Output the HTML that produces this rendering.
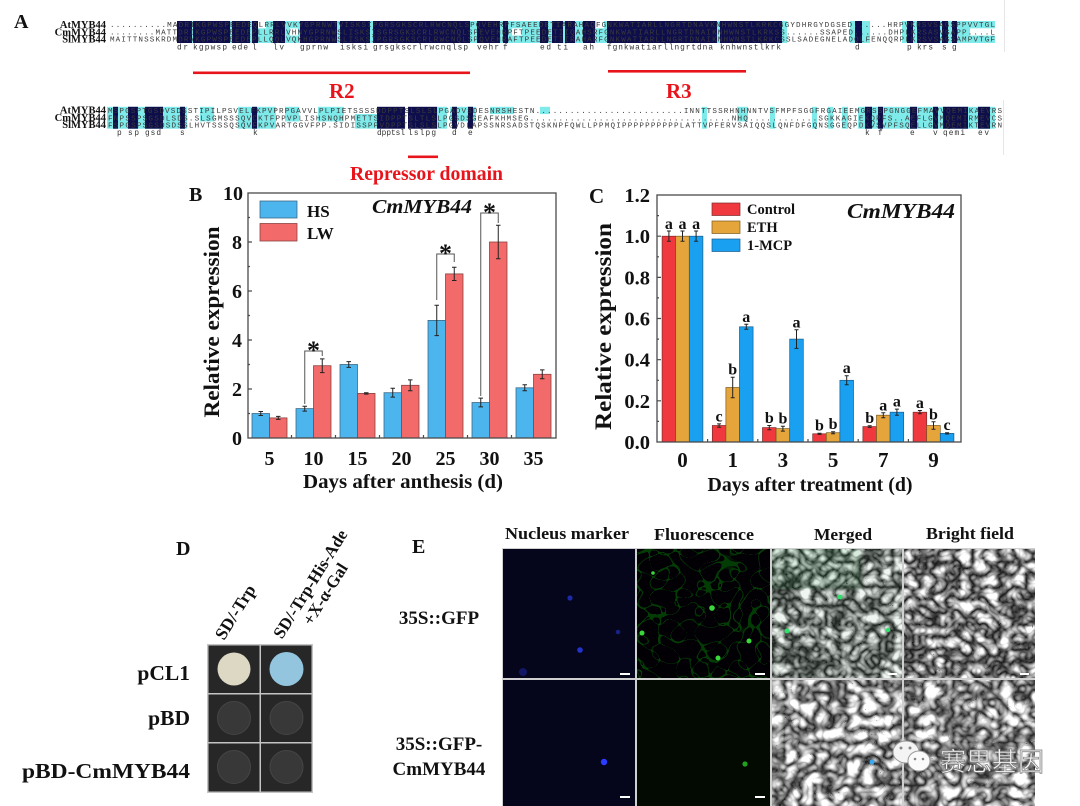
<!DOCTYPE html>
<html><head><meta charset="utf-8">
<style>
html,body{margin:0;padding:0;background:#fff;}
svg{display:block;}
.nm{font-family:"Liberation Serif",serif;font-weight:bold;font-size:10.5px;fill:#111;}
.seq{font-family:"Liberation Mono",monospace;font-size:7.6px;fill:#3a3a3a;}
.cs{font-family:"Liberation Mono",monospace;font-size:7.8px;fill:#333;}
.b{font-family:"Liberation Serif",serif;font-weight:bold;fill:#111;}
.red{font-family:"Liberation Serif",serif;font-weight:bold;fill:#e8141c;}
</style></head>
<body>
<svg width="1080" height="806" viewBox="0 0 1080 806" xmlns="http://www.w3.org/2000/svg">
<defs>
<filter id="bf1" x="0" y="0" width="1" height="1" color-interpolation-filters="sRGB">
 <feTurbulence type="turbulence" baseFrequency="0.075 0.08" numOctaves="2" seed="7"/>
 <feColorMatrix type="matrix" values="1.7 0 0 0 0.08  1.7 0 0 0 0.08  1.7 0 0 0 0.08  0 0 0 0 1"/>
</filter>
<filter id="bf2" x="0" y="0" width="1" height="1" color-interpolation-filters="sRGB">
 <feTurbulence type="turbulence" baseFrequency="0.065 0.07" numOctaves="2" seed="19"/>
 <feColorMatrix type="matrix" values="1.9 0 0 0 0.12  1.9 0 0 0 0.12  1.9 0 0 0 0.12  0 0 0 0 1"/>
</filter>
<filter id="gf" x="0" y="0" width="1" height="1" color-interpolation-filters="sRGB">
 <feTurbulence type="turbulence" baseFrequency="0.05 0.056" numOctaves="1" seed="7"/>
 <feColorMatrix type="matrix" values="0 0 0 0 0.01  -8 0 0 0 0.24  0 0 0 0 0.02  0 0 0 0 1"/>
</filter>
</defs>

<!-- ============ PANEL A ============ -->
<text x="14" y="28" class="b" font-size="20">A</text>
<line x1="1004.5" y1="0" x2="1004.5" y2="52" stroke="#e6e6e6"/>
<line x1="1003.5" y1="100" x2="1003.5" y2="155" stroke="#e6e6e6"/>

<g fill="#7eeaea">
<rect x="177" y="21" width="430" height="22"/>
<rect x="607" y="21" width="180" height="22"/>
<rect x="850" y="21" width="20" height="22"/>
<rect x="902" y="21" width="68" height="22"/>
<rect x="970" y="21" width="25" height="7.3"/>
<rect x="970" y="35.6" width="25" height="7.4"/>
</g>
<g fill="#fff">
<rect x="258" y="21" width="8" height="7.3"/>
<rect x="290" y="28.3" width="8" height="7.3"/>
<rect x="512" y="28.3" width="10" height="7.3"/>
<rect x="596" y="21" width="8" height="7.3"/>
</g>
<g fill="#0e0e4c">
<rect x="177" y="21" width="15" height="22"/>
<rect x="193" y="21" width="37" height="22"/>
<rect x="232" y="21" width="18" height="22"/>
<rect x="252" y="21" width="6" height="22"/>
<rect x="273" y="21" width="12" height="22"/>
<rect x="300" y="21" width="37" height="22"/>
<rect x="340" y="21" width="30" height="22"/>
<rect x="373" y="21" width="97" height="22"/>
<rect x="477" y="21" width="23" height="22"/>
<rect x="503" y="21" width="5" height="22"/>
<rect x="540" y="21" width="8" height="22"/>
<rect x="552" y="21" width="11" height="22"/>
<rect x="565" y="21" width="10" height="22"/>
<rect x="583" y="21" width="12" height="22"/>
<rect x="607" y="21" width="110" height="22"/>
<rect x="720" y="21" width="62" height="22"/>
<rect x="855" y="21" width="7" height="22"/>
<rect x="907" y="21" width="6" height="22"/>
<rect x="917" y="21" width="23" height="22"/>
<rect x="942" y="21" width="6" height="22"/>
<rect x="952" y="21" width="5" height="22"/>
</g>
<text x="106" y="28" class="nm" text-anchor="end">AtMYB44</text>
<text x="106" y="35.3" class="nm" text-anchor="end">CmMYB44</text>
<text x="106" y="42.6" class="nm" text-anchor="end">SlMYB44</text>
<text x="110" y="27" class="seq" textLength="885" lengthAdjust="spacing">..........MADRIKGPWSPEEDEQLRRLVVKYGPRNWTVISKSIPGRSGKSCRLRWCNQLSPQVEHRPFSAEEDETIARAHAQFGNKWATIARLLNGRTDNAVKNHWNSTLKRKCGGYDHRGYDGSED......HRPVKRSVSAGSPPVVTGL</text>
<text x="110" y="34.3" class="seq" textLength="885" lengthAdjust="spacing">........MATTDRIKGPWSPEEDEPLLRRLVHNYGPRNWSLISKSISGRSGKSCRLRWCNQLSPEVEHRPFTPEEDETIIQAHSRFGNKWATIARLLNGRTDNAIKNHWNSTLKRKSS......SSAPED......DHPLKRSASVGAPP....L</text>
<text x="110" y="41.6" class="seq" textLength="885" lengthAdjust="spacing">MAITTNSSKRDMDRVKGPWSPEEDEPLLQQLVQKHGPRNWSLISKSIPGRSGKSCRLRWCNQLSPQVEHRAFTPEEDETIIRAHARFGNKWATIARLLNGRTDNAIKNHWNSTLKRKCSSLSADEGNELADQLFENQQRPLKRSVSAGSAMPVTGF</text>
<g class="cs">
<text x="177" y="49.5" textLength="11" lengthAdjust="spacing">dr</text>
<text x="193" y="49.5" textLength="34" lengthAdjust="spacing">kgpwsp</text>
<text x="232" y="49.5" textLength="16" lengthAdjust="spacing">ede</text>
<text x="252" y="49.5">l</text>
<text x="273" y="49.5" textLength="11" lengthAdjust="spacing">lv</text>
<text x="300" y="49.5" textLength="28" lengthAdjust="spacing">gprnw</text>
<text x="340" y="49.5" textLength="28" lengthAdjust="spacing">isksi</text>
<text x="373" y="49.5" textLength="95" lengthAdjust="spacing">grsgkscrlrwcnqlsp</text>
<text x="477" y="49.5" textLength="22" lengthAdjust="spacing">vehr</text>
<text x="503" y="49.5">f</text>
<text x="540" y="49.5" textLength="11" lengthAdjust="spacing">ed</text>
<text x="557" y="49.5" textLength="11" lengthAdjust="spacing">ti</text>
<text x="583" y="49.5" textLength="11" lengthAdjust="spacing">ah</text>
<text x="607" y="49.5" textLength="106" lengthAdjust="spacing">fgnkwatiarllngrtdna</text>
<text x="720" y="49.5" textLength="61" lengthAdjust="spacing">knhwnstlkrk</text>
<text x="855" y="49.5">d</text>
<text x="907" y="49.5">p</text>
<text x="917" y="49.5" textLength="16" lengthAdjust="spacing">krs</text>
<text x="942" y="49.5">s</text>
<text x="952" y="49.5">g</text>
</g>
<rect x="193" y="71.5" width="277" height="2.6" fill="#e8141c"/>
<rect x="608" y="70" width="138" height="2.6" fill="#e8141c"/>
<text x="329" y="98" class="red" font-size="21">R2</text>
<text x="666" y="98" class="red" font-size="21">R3</text>

<g fill="#7eeaea">
<rect x="107" y="106.8" width="80" height="21.9"/>
<rect x="200" y="106.8" width="14" height="14.6"/>
<rect x="238" y="106.8" width="38" height="21.9"/>
<rect x="285" y="106.8" width="14" height="14.6"/>
<rect x="318" y="106.8" width="26" height="14.6"/>
<rect x="355" y="114" width="22" height="14.6"/>
<rect x="437" y="106.8" width="10" height="21.9"/>
<rect x="450" y="106.8" width="26" height="14.6"/>
<rect x="490" y="106.8" width="24" height="7.3"/>
<rect x="540" y="106.8" width="10" height="7.3"/>
<rect x="702" y="106.8" width="5" height="21.9"/>
<rect x="737" y="106.8" width="11" height="14.6"/>
<rect x="770" y="106.8" width="5" height="21.9"/>
<rect x="812" y="106.8" width="5" height="21.9"/>
<rect x="828" y="106.8" width="5" height="21.9"/>
<rect x="842" y="106.8" width="6" height="21.9"/>
<rect x="858" y="106.8" width="137" height="21.9"/>
</g>
<g fill="#0e0e4c">
<rect x="113" y="106.8" width="5" height="21.9"/>
<rect x="128" y="106.8" width="10" height="21.9"/>
<rect x="145" y="106.8" width="18" height="21.9"/>
<rect x="180" y="106.8" width="5" height="21.9"/>
<rect x="252" y="106.8" width="5" height="21.9"/>
<rect x="377" y="106.8" width="28" height="21.9"/>
<rect x="408" y="106.8" width="29" height="21.9"/>
<rect x="452" y="106.8" width="5" height="21.9"/>
<rect x="468" y="106.8" width="5" height="21.9"/>
<rect x="865" y="106.8" width="7" height="21.9"/>
<rect x="878" y="106.8" width="5" height="21.9"/>
<rect x="910" y="106.8" width="7" height="21.9"/>
<rect x="933" y="106.8" width="5" height="21.9"/>
<rect x="943" y="106.8" width="25" height="21.9"/>
<rect x="978" y="106.8" width="12" height="21.9"/>
</g>
<text x="106" y="113.5" class="nm" text-anchor="end">AtMYB44</text>
<text x="106" y="120.8" class="nm" text-anchor="end">CmMYB44</text>
<text x="106" y="128.1" class="nm" text-anchor="end">SlMYB44</text>
<text x="108" y="113" class="seq" textLength="894" lengthAdjust="spacing">MSPGSPTGSDVSDSSTIPILPSVELFKPVPRPGAVVLPLPIETSSSSDDPPTSLSLSLPGADVSDESNRSHESTN..........................INNTTSSRHNHNNTVSFMPFSGGFRGAIEEMGRSSPGNGGEFMAVVQEMIKAEVRS</text>
<text x="108" y="120.3" class="seq" textLength="894" lengthAdjust="spacing">FNPSSPSGSDLSDS.SLSGMSSSQVCKTFPPVPLISHSNQHPMETTSIDPPTSLTLSLPGSDSGEAFKHMSEG...................................NHQ............SGKKAGIEKQPFS..AEFLGVMQEMIRMEVCS</text>
<text x="108" y="127.6" class="seq" textLength="894" lengthAdjust="spacing">FSPGSPSGSDSDSSLHVTSSSQSQVFKPVARTGGVFPP.SIDISSPPVDPPTSLSLSLPGVDLAPSSNRSADSTQSKNPFQWLLPPMQIPPPPPPPPPPLATTVPFERVSAIQQSLQNFDFGQNSGGEQPDKVSVPFSQELLGVMQEMIKTEVRN</text>
<g class="cs">
<text x="117" y="135">p</text>
<text x="128" y="135" textLength="11" lengthAdjust="spacing">sp</text>
<text x="145" y="135" textLength="16" lengthAdjust="spacing">gsd</text>
<text x="180" y="135">s</text>
<text x="253" y="135">k</text>
<text x="377" y="135" textLength="28" lengthAdjust="spacing">dpptsl</text>
<text x="408" y="135" textLength="28" lengthAdjust="spacing">lslpg</text>
<text x="452" y="135">d</text>
<text x="468" y="135">e</text>
<text x="865" y="135">k</text>
<text x="878" y="135">f</text>
<text x="910" y="135">e</text>
<text x="933" y="135">v</text>
<text x="943" y="135" textLength="22" lengthAdjust="spacing">qemi</text>
<text x="978" y="135" textLength="11" lengthAdjust="spacing">ev</text>
</g>
<rect x="408" y="155.5" width="30" height="2.6" fill="#e8141c"/>
<text x="350" y="180" class="red" font-size="20" textLength="153" lengthAdjust="spacingAndGlyphs">Repressor domain</text>

<!-- ============ PANEL B ============ -->
<text x="189" y="201" class="b" font-size="20">B</text>
<g fill="#4db5ee" stroke="#3d6a88" stroke-width="0.8">
<rect x="252" y="413.5" width="17.5" height="24.5"/>
<rect x="296" y="408.6" width="17.5" height="29.4"/>
<rect x="340" y="364.5" width="17.5" height="73.5"/>
<rect x="384" y="392.7" width="17.5" height="45.3"/>
<rect x="428" y="320.4" width="17.5" height="117.6"/>
<rect x="472" y="402.5" width="17.5" height="35.5"/>
<rect x="516" y="387.8" width="17.5" height="50.2"/>
</g>
<g fill="#f26a6a" stroke="#8a4444" stroke-width="0.8">
<rect x="269.5" y="417.9" width="17.5" height="20.1"/>
<rect x="313.5" y="365.7" width="17.5" height="72.3"/>
<rect x="357.5" y="393.4" width="17.5" height="44.6"/>
<rect x="401.5" y="385.3" width="17.5" height="52.7"/>
<rect x="445.5" y="273.9" width="17.5" height="164.1"/>
<rect x="489.5" y="242" width="17.5" height="196"/>
<rect x="533.5" y="374.3" width="17.5" height="63.7"/>
</g>
<g stroke="#222" stroke-width="1" fill="none">
<path d="M260.75 411.5V415.5M258.5 411.5h4.5M258.5 415.5h4.5"/>
<path d="M278.25 416.4V419.4M276 416.4h4.5M276 419.4h4.5"/>
<path d="M304.75 406.2V411.1M302.5 406.2h4.5M302.5 411.1h4.5"/>
<path d="M322.25 358.9V372.6M320 358.9h4.5M320 372.6h4.5"/>
<path d="M348.75 361.6V367.4M346.5 361.6h4.5M346.5 367.4h4.5"/>
<path d="M366.25 392.7V394.1M364 392.7h4.5M364 394.1h4.5"/>
<path d="M392.75 388.3V397.1M390.5 388.3h4.5M390.5 397.1h4.5"/>
<path d="M410.25 379.9V390.7M408 379.9h4.5M408 390.7h4.5"/>
<path d="M436.75 305.2V335.6M434.5 305.2h4.5M434.5 335.6h4.5"/>
<path d="M454.25 267.2V280.5M452 267.2h4.5M452 280.5h4.5"/>
<path d="M480.75 398.1V406.9M478.5 398.1h4.5M478.5 406.9h4.5"/>
<path d="M498.25 225.3V258.7M496 225.3h4.5M496 258.7h4.5"/>
<path d="M524.75 384.8V390.7M522.5 384.8h4.5M522.5 390.7h4.5"/>
<path d="M542.25 369.9V378.7M540 369.9h4.5M540 378.7h4.5"/>
</g>
<g stroke="#555" stroke-width="1" fill="none">
<path d="M304.75 404V351H322.25V356"/>
<path d="M436.75 300V254H454.25V262"/>
<path d="M480.75 396V213H498.25V223"/>
</g>
<g class="b" font-size="26" text-anchor="middle">
<text x="313.5" y="359">*</text>
<text x="445.5" y="262">*</text>
<text x="489.5" y="221">*</text>
</g>
<rect x="248" y="193" width="308" height="245" fill="none" stroke="#4a4a4a" stroke-width="1.3"/>
<g stroke="#4a4a4a" stroke-width="1.2">
<path d="M248 389h4M248 340h4M248 291h4M248 242h4M248 413.5h2M248 364.5h2M248 315.5h2M248 266.5h2M248 217.5h2"/>
<path d="M291.5 438v-3M335.5 438v-3M379.5 438v-3M423.5 438v-3M467.5 438v-3M511.5 438v-3"/>
</g>
<g class="b" font-size="20" text-anchor="end">
<text x="242" y="445">0</text>
<text x="242" y="396">2</text>
<text x="242" y="347">4</text>
<text x="242" y="298">6</text>
<text x="242" y="249">8</text>
<text x="243" y="200">10</text>
</g>
<g class="b" font-size="20" text-anchor="middle">
<text x="269.5" y="465">5</text>
<text x="313.5" y="465">10</text>
<text x="357.5" y="465">15</text>
<text x="401.5" y="465">20</text>
<text x="445.5" y="465">25</text>
<text x="489.5" y="465">30</text>
<text x="533.5" y="465">35</text>
</g>
<text x="403" y="488" class="b" font-size="20" text-anchor="middle" textLength="200" lengthAdjust="spacingAndGlyphs">Days after anthesis (d)</text>
<text transform="translate(219,322) rotate(-90)" class="b" font-size="22" text-anchor="middle" textLength="191" lengthAdjust="spacingAndGlyphs">Relative expression</text>
<rect x="260" y="201" width="37" height="17" fill="#4db5ee" stroke="#3d6a88" stroke-width="0.8"/>
<rect x="260" y="223.5" width="37" height="17.5" fill="#f26a6a" stroke="#8a4444" stroke-width="0.8"/>
<text x="307" y="217" class="b" font-size="17">HS</text>
<text x="307" y="239" class="b" font-size="17">LW</text>
<text x="372" y="213" class="b" font-size="20" font-style="italic" textLength="100" lengthAdjust="spacingAndGlyphs">CmMYB44</text>

<!-- ============ PANEL C ============ -->
<text x="589" y="203" class="b" font-size="21">C</text>
<g fill="#f0393f" stroke="#7a2a2a" stroke-width="0.7">
<rect x="662.1" y="236.2" width="13.6" height="205.8"/>
<rect x="712.3" y="425.5" width="13.6" height="16.5"/>
<rect x="762.5" y="427.6" width="13.6" height="14.4"/>
<rect x="812.7" y="433.8" width="13.6" height="8.2"/>
<rect x="862.9" y="426.6" width="13.6" height="15.4"/>
<rect x="913.1" y="412.2" width="13.6" height="29.8"/>
</g>
<g fill="#e5a53a" stroke="#7a5a20" stroke-width="0.7">
<rect x="675.7" y="236.2" width="13.6" height="205.8"/>
<rect x="725.9" y="387.5" width="13.6" height="54.5"/>
<rect x="776.1" y="428.6" width="13.6" height="13.4"/>
<rect x="826.3" y="432.7" width="13.6" height="9.3"/>
<rect x="876.5" y="415.2" width="13.6" height="26.8"/>
<rect x="926.7" y="425.5" width="13.6" height="16.5"/>
</g>
<g fill="#1aa0f0" stroke="#1a5a8a" stroke-width="0.7">
<rect x="689.3" y="236.2" width="13.6" height="205.8"/>
<rect x="739.5" y="326.8" width="13.6" height="115.2"/>
<rect x="789.7" y="339.1" width="13.6" height="102.9"/>
<rect x="839.9" y="380.3" width="13.6" height="61.7"/>
<rect x="890.1" y="412.2" width="13.6" height="29.8"/>
<rect x="940.3" y="433.4" width="13.6" height="8.6"/>
</g>
<g stroke="#222" stroke-width="1" fill="none">
<path d="M668.9 231V241.3M666.9 231h4M666.9 241.3h4"/>
<path d="M682.5 231V241.3M680.5 231h4M680.5 241.3h4"/>
<path d="M696.1 231V241.3M694.1 231h4M694.1 241.3h4"/>
<path d="M719.1 423.9V427.2M717.1 423.9h4M717.1 427.2h4"/>
<path d="M732.7 377.2V397.8M730.7 377.2h4M730.7 397.8h4"/>
<path d="M746.3 324.3V329.2M744.3 324.3h4M744.3 329.2h4"/>
<path d="M769.3 425.5V429.7M767.3 425.5h4M767.3 429.7h4"/>
<path d="M782.9 426.2V431.1M780.9 426.2h4M780.9 431.1h4"/>
<path d="M796.5 329.8V348.4M794.5 329.8h4M794.5 348.4h4"/>
<path d="M819.5 433.2V434.4M817.5 433.2h4M817.5 434.4h4"/>
<path d="M833.1 431.7V433.8M831.1 431.7h4M831.1 433.8h4"/>
<path d="M846.7 375.7V384.8M844.7 375.7h4M844.7 384.8h4"/>
<path d="M869.7 425.7V427.4M867.7 425.7h4M867.7 427.4h4"/>
<path d="M883.3 412.8V417.7M881.3 412.8h4M881.3 417.7h4"/>
<path d="M896.9 409.1V415.2M894.9 409.1h4M894.9 415.2h4"/>
<path d="M919.9 410.5V413.8M917.9 410.5h4M917.9 413.8h4"/>
<path d="M933.5 421.8V429.2M931.5 421.8h4M931.5 429.2h4"/>
<path d="M947.1 432.7V434M945.1 432.7h4M945.1 434h4"/>
</g>
<g class="b" font-size="16" text-anchor="middle">
<text x="668.9" y="229">a</text><text x="682.5" y="229">a</text><text x="696.1" y="229">a</text>
<text x="719.1" y="421.5">c</text><text x="732.7" y="374.7">b</text><text x="746.3" y="321.8">a</text>
<text x="769.3" y="423">b</text><text x="782.9" y="423.7">b</text><text x="796.5" y="327.3">a</text>
<text x="819.5" y="430.7">b</text><text x="833.1" y="429.2">b</text><text x="846.7" y="373.2">a</text>
<text x="869.7" y="423.2">b</text><text x="883.3" y="410.3">a</text><text x="896.9" y="406.6">a</text>
<text x="919.9" y="408">a</text><text x="933.5" y="419.3">b</text><text x="947.1" y="430.2">c</text>
</g>
<rect x="657" y="195" width="304" height="247" fill="none" stroke="#4a4a4a" stroke-width="1.3"/>
<g stroke="#4a4a4a" stroke-width="1.2">
<path d="M657 400.8h4M657 359.7h4M657 318.5h4M657 277.4h4M657 236.2h4M657 421.4h2M657 380.3h2M657 339.1h2M657 297.9h2M657 256.8h2M657 215.6h2"/>
<path d="M707.6 442v-3M757.8 442v-3M808 442v-3M858.2 442v-3M908.4 442v-3"/>
</g>
<g class="b" font-size="20.5" text-anchor="end">
<text x="650" y="449">0.0</text>
<text x="650" y="407.8">0.2</text>
<text x="650" y="366.7">0.4</text>
<text x="650" y="325.5">0.6</text>
<text x="650" y="284.4">0.8</text>
<text x="650" y="243.2">1.0</text>
<text x="650" y="202">1.2</text>
</g>
<g class="b" font-size="21" text-anchor="middle">
<text x="682.5" y="467">0</text>
<text x="732.7" y="467">1</text>
<text x="782.9" y="467">3</text>
<text x="833.1" y="467">5</text>
<text x="883.3" y="467">7</text>
<text x="933.5" y="467">9</text>
</g>
<text x="810" y="491" class="b" font-size="20" text-anchor="middle" textLength="205" lengthAdjust="spacingAndGlyphs">Days after treatment (d)</text>
<text transform="translate(611,326.5) rotate(-90)" class="b" font-size="23" text-anchor="middle" textLength="207" lengthAdjust="spacingAndGlyphs">Relative expression</text>
<rect x="712" y="203" width="28" height="12.5" fill="#f0393f" stroke="#7a2a2a" stroke-width="0.7"/>
<rect x="712" y="221" width="28" height="12.5" fill="#e5a53a" stroke="#7a5a20" stroke-width="0.7"/>
<rect x="712" y="239" width="28" height="12.5" fill="#1aa0f0" stroke="#1a5a8a" stroke-width="0.7"/>
<text x="747" y="214" class="b" font-size="14.5">Control</text>
<text x="747" y="232" class="b" font-size="14.5">ETH</text>
<text x="747" y="250" class="b" font-size="14.5">1-MCP</text>
<text x="847" y="218" class="b" font-size="21" font-style="italic" textLength="108" lengthAdjust="spacingAndGlyphs">CmMYB44</text>

<!-- ============ PANEL D ============ -->
<text x="176" y="555" class="b" font-size="20">D</text>
<text transform="translate(224,641) rotate(-58)" class="b" font-size="17.5">SD/-Trp</text>
<text transform="translate(315,587) rotate(-58)" class="b" font-size="17" text-anchor="middle">SD/-Trp-His-Ade</text>
<text transform="translate(330,597) rotate(-58)" class="b" font-size="17" text-anchor="middle">+X-α-Gal</text>
<text x="190" y="680" class="b" font-size="21.5" text-anchor="end">pCL1</text>
<text x="190" y="725" class="b" font-size="21.5" text-anchor="end">pBD</text>
<text x="190" y="778" class="b" font-size="21.5" text-anchor="end" textLength="168" lengthAdjust="spacingAndGlyphs">pBD-CmMYB44</text>
<rect x="207" y="644" width="106" height="149" fill="#c4c4c4"/>
<g fill="#272727">
<rect x="208.5" y="645.5" width="51" height="47.5"/>
<rect x="261" y="645.5" width="50.5" height="47.5"/>
<rect x="208.5" y="694.5" width="51" height="47.5"/>
<rect x="261" y="694.5" width="50.5" height="47.5"/>
<rect x="208.5" y="743.5" width="51" height="48"/>
<rect x="261" y="743.5" width="50.5" height="48"/>
</g>
<circle cx="234" cy="669" r="16.5" fill="#dcd8c4"/>
<circle cx="286.5" cy="669" r="17" fill="#93c6de"/>
<g fill="#383838" stroke="#454545" stroke-width="1">
<circle cx="234" cy="718" r="16.5"/>
<circle cx="286.5" cy="718" r="16.5"/>
<circle cx="234" cy="767" r="16.5"/>
<circle cx="286.5" cy="767" r="16.5"/>
</g>

<!-- ============ PANEL E ============ -->
<text x="412" y="553" class="b" font-size="20">E</text>
<g class="b" font-size="17" text-anchor="middle">
<text x="567" y="539" textLength="124" lengthAdjust="spacingAndGlyphs">Nucleus marker</text>
<text x="704" y="540" textLength="100" lengthAdjust="spacingAndGlyphs">Fluorescence</text>
<text x="843" y="540" textLength="58" lengthAdjust="spacingAndGlyphs">Merged</text>
<text x="970" y="539" textLength="88" lengthAdjust="spacingAndGlyphs">Bright field</text>
</g>
<text x="439" y="624" class="b" font-size="19" text-anchor="middle">35S::GFP</text>
<text x="439" y="750" class="b" font-size="19" text-anchor="middle">35S::GFP-</text>
<text x="439" y="775" class="b" font-size="19" text-anchor="middle">CmMYB44</text>
<rect x="502" y="548" width="533" height="258" fill="#cfcfcf"/>
<rect x="503" y="549" width="132" height="129" fill="#05051c"/>
<rect x="503" y="680" width="132" height="126" fill="#05051c"/>
<g fill="#2233cc">
<circle cx="570" cy="598" r="2.6" opacity="0.8"/>
<circle cx="580" cy="650" r="2.8"/>
<circle cx="618" cy="632" r="2.3" opacity="0.6"/>
<circle cx="523" cy="672" r="4" opacity="0.4"/>
<circle cx="604" cy="762" r="3.2" fill="#2a3cff"/>
</g>
<rect x="637" y="549" width="133" height="129" filter="url(#gf)"/>
<rect x="637" y="680" width="133" height="126" fill="#020a02"/>
<g fill="#3ad83a">
<circle cx="642" cy="633" r="2.5"/>
<circle cx="712" cy="608" r="2.8"/>
<circle cx="749" cy="641" r="2.5"/>
<circle cx="718" cy="658" r="2.5"/>
<circle cx="653" cy="573" r="1.8"/>
<circle cx="745" cy="764" r="2.6" fill="#1fa01f"/>
</g>
<rect x="772" y="549" width="130" height="129" filter="url(#bf1)"/>
<rect x="904" y="549" width="131" height="129" filter="url(#bf1)"/>
<rect x="772" y="680" width="130" height="126" filter="url(#bf2)"/>
<rect x="904" y="680" width="131" height="126" filter="url(#bf2)"/>
<rect x="772" y="549" width="130" height="129" fill="#1a7a3a" opacity="0.07"/>
<rect x="772" y="549" width="90" height="40" fill="#1a8a3a" opacity="0.1"/>
<g fill="#2ee06a">
<circle cx="840" cy="597" r="2.5"/>
<circle cx="787" cy="631" r="2.5"/>
<circle cx="888" cy="630" r="2.2"/>
</g>
<circle cx="872" cy="762" r="2.5" fill="#3aa8f0"/>
<g stroke="#fff" stroke-width="2">
<path d="M620 674h10M755 674h10M888 674h9M1020 674h9M620 797h10M755 797h10"/>
</g>
<g>
<ellipse cx="906" cy="752" rx="13" ry="11" fill="#f4f4f4" stroke="#9a9a9a" stroke-width="1"/>
<ellipse cx="919" cy="761" rx="11" ry="10" fill="#fafafa" stroke="#9a9a9a" stroke-width="1"/>
<circle cx="901" cy="748" r="1.5" fill="#888"/>
<circle cx="910" cy="748" r="1.5" fill="#888"/>
<circle cx="915" cy="759" r="1.3" fill="#888"/>
<circle cx="923" cy="759" r="1.3" fill="#888"/>
<text x="940" y="771" font-family="'Liberation Sans','Noto Sans CJK SC',sans-serif" font-size="26" fill="#f4f4f4" stroke="#777" stroke-width="0.7">赛思基因</text>
</g>
</svg>
</body></html>
